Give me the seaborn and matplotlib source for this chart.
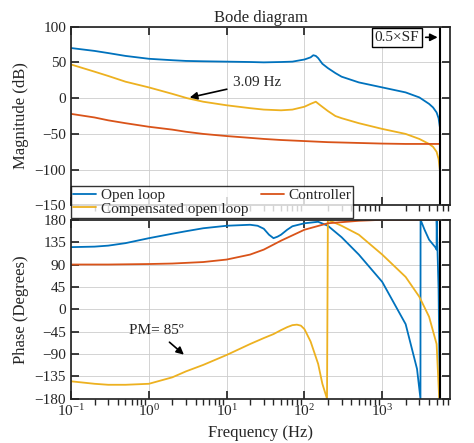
import numpy as np
import pandas as pd
import matplotlib
matplotlib.use("Agg")
import matplotlib.pyplot as plt
import seaborn as sns

sns.set_theme(style="ticks")
plt.rcParams['font.family'] = ['Liberation Serif', 'DejaVu Serif']
plt.rcParams['mathtext.fontset'] = 'stix'

# magnitude (dB)
f_ol_m = [0.1,0.2,0.3,0.5,1,2,3,5,10,20,30,50,70,100,120,130,140,150,170,200,250,300,500,1000,2000,3000,4000,4500,5000,5300,5500]
ol_m = [70,66,63,59,55,53,52,51.5,51,50.5,50,50.5,51,54,57,60,59,56,48,42,35,30,22,15,8,1,-8,-13,-20,-28,-40]
f_co_m = [0.1,0.2,0.3,0.5,1,2,3.09,5,10,20,30,50,70,100,120,140,160,200,250,300,500,1000,2000,3000,4000,4500,5000,5300,5500]
co_m = [47,37,31,23,15,6,0,-5,-10,-14,-16,-17,-16,-12,-8,-5,-10,-18,-25,-28,-35,-43,-50,-57,-64,-68,-75,-85,-100]
f_ct_m = [0.1,0.2,0.3,0.5,1,2,3,5,10,20,30,50,100,200,300,1000,2000,5500]
ct_m = [-22,-27,-31,-35,-40,-44,-47,-50,-53,-55.5,-57,-58.5,-60,-61.5,-62,-63.5,-64,-64]
# phase (deg)
f_ol_p = [0.1,0.2,0.3,0.5,1,2,3,5,10,20,25,30,35,40,45,50,60,70,100,150,200,300,500,1000,2000,2800,3100,3110,3500,4000,4800,5000,5010,5300,5500]
ol_p = [125,126,128,133,143,152,157,163,168,170,168,162,150,143,146,150,160,167,173,176,168,145,110,55,-30,-120,-180,180,160,140,125,120,180,40,-180]
f_co_p = [0.1,0.2,0.3,0.5,1,2,3,5,10,20,30,40,50,60,70,80,90,100,120,150,170,195,200,300,500,1000,2000,3000,4000,5000,5400]
co_p = [-145,-150,-152,-152,-150,-137,-125,-112,-92,-70,-58,-50,-42,-36,-32,-31,-33,-40,-65,-110,-150,-180,180,168,150,110,65,25,-15,-70,-180]
f_ct_p = [0.1,0.3,1,2,5,10,20,30,50,100,200,500,1000,5500]
ct_p = [90,90,91,92,95,100,110,120,138,160,173,178,180,180]

blue, orange, red = '#0072BD', '#EDB120', '#D95319'
fig, (ax1, ax2) = plt.subplots(2, 1, figsize=(4.74, 4.43), dpi=100, sharex=True)
for ax in (ax1, ax2):
    ax.set_xscale('log')
for f, v, c, lab in [(f_ol_m, ol_m, blue, 'Open loop'), (f_co_m, co_m, orange, 'Compensated open loop'), (f_ct_m, ct_m, red, 'Controller')]:
    sns.lineplot(x=f, y=v, color=c, lw=1.3, label=lab, ax=ax1, sort=False, estimator=None)
for f, v, c in [(f_ol_p, ol_p, blue), (f_co_p, co_p, orange), (f_ct_p, ct_p, red)]:
    sns.lineplot(x=f, y=v, color=c, lw=1.3, ax=ax2, sort=False, estimator=None)
for ax in (ax1, ax2):
    ax.axvline(5600, color='black', lw=1.5)
    ax.grid(True, color='#cccccc', lw=0.6)
    ax.set_xlim(0.1, 7500)
    ax.tick_params(direction='in', labelsize=11, top=True, right=True)
    ax.tick_params(axis='y', which='minor', left=False, right=False)
ax1.set_ylim(-150, 100); ax1.set_yticks(np.arange(-150, 101, 50))
ax2.set_ylim(-180, 180); ax2.set_yticks(np.arange(-180, 181, 45))
ax1.set_title('Bode diagram', fontsize=12, pad=3)
ax1.set_ylabel('Magnitude (dB)', fontsize=12)
ax2.set_ylabel('Phase (Degrees)', fontsize=12)
ax2.set_xlabel('Frequency (Hz)', fontsize=12)
leg = ax1.legend(loc='lower left', bbox_to_anchor=(0, -0.07), ncol=2, fontsize=11,
                 frameon=True, fancybox=False, edgecolor='black', borderpad=0.15,
                 labelspacing=0.0, handlelength=1.5, handletextpad=0.3,
                 columnspacing=0.8, borderaxespad=0)
leg.set_zorder(10)
ax1.annotate('3.09 Hz', xy=(3.09, 0), xytext=(12, 17), fontsize=11,
             arrowprops=dict(arrowstyle='-|>', color='black', lw=1.2))
ax2.annotate('PM= 85º', xy=(3, -95), xytext=(0.55, -50), fontsize=11,
             arrowprops=dict(arrowstyle='-|>', color='black', lw=1.2, shrinkA=2))
ax1.annotate('0.5×SF', xy=(5600, 85), xytext=(800, 85), fontsize=11, va='center',
             bbox=dict(boxstyle='square,pad=0.2', fc='white', ec='black'),
             arrowprops=dict(arrowstyle='-|>', color='black', lw=1.2))
fig.subplots_adjust(left=0.15, right=0.95, top=0.94, bottom=0.1, hspace=0.08)
fig.savefig('out.png', dpi=100)
